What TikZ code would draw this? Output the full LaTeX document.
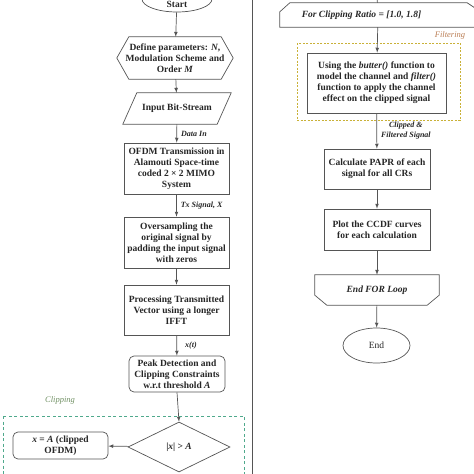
\documentclass[tikz,border=0pt]{standalone}
\usepackage{fontspec}
\setmainfont{Liberation Serif}
\usetikzlibrary{shapes,arrows}

\definecolor{edge}{HTML}{555555}
\definecolor{clipgreen}{HTML}{4FA98C}
\definecolor{cliptext}{HTML}{6F8F62}
\definecolor{filtgold}{HTML}{C9B137}
\definecolor{filttext}{HTML}{B97C52}

\tikzset{
  txt/.style={align=center, inner sep=0pt, text=black!85, font=\fontsize{9.5}{11}\selectfont\bfseries},
  proc/.style={txt, draw=edge, line width=0.7pt, rectangle, minimum width=105pt, minimum height=51pt},
  rproc/.style={proc, rounded corners=5pt},
  term/.style={txt, draw=edge, line width=0.7pt, ellipse},
  decide/.style={txt, draw=edge, line width=0.7pt, diamond, aspect=2},
  outline/.style={draw=edge, line width=0.7pt},
  lbl/.style={inner sep=0pt, text=black!85, align=center, font=\fontsize{8}{10}\selectfont\bfseries\itshape},
  link/.style={->, draw=edge, line width=0.7pt},
}

\begin{document}
\begin{tikzpicture}[x=1pt, y=-1pt, >=latex]
\useasboundingbox (0,0) rectangle (474,474);

% left column
\node[term, minimum width=70pt, minimum height=26pt] (start) at (177,-1) {\raisebox{-8pt}[0pt][0pt]{Start}};
\node[txt, minimum width=116pt, minimum height=42pt] (params) at (175,58)
  {Define parameters: \textit{N},\\Modulation Scheme and\\Order \textit{M}};
\draw[outline] ([xshift=12pt]params.north west) -- ([xshift=-12pt]params.north east) -- (params.east)
  -- ([xshift=-12pt]params.south east) -- ([xshift=12pt]params.south west) -- (params.west) -- cycle;
\node[txt, minimum width=108pt, minimum height=31pt] (input) at (177,108.5) {Input Bit-Stream};
\draw[outline] (input.south west) -- ([xshift=-14pt]input.south east) -- (input.north east)
  -- ([xshift=14pt]input.north west) -- cycle;
\node[proc] (ofdm) at (176.5,168.5) {OFDM Transmission in\\Alamouti Space-time\\coded 2 × 2 MIMO\\System};
\node[proc] (overs) at (176.5,242.5) {Oversampling the\\original signal by\\padding the input signal\\with zeros};
\node[proc, minimum height=50pt] (ifft) at (176.5,310) {Processing Transmitted\\Vector using a longer\\IFFT};
\node[rproc, minimum width=96pt, minimum height=36pt] (peak) at (177,374)
  {Peak Detection and\\Clipping Constraints\\w.r.t threshold \textit{A}};
\node[decide, minimum width=102pt, minimum height=50pt] (check) at (179,447) {|\textit{x}| > \textit{A}};
\node[rproc, minimum width=95pt, minimum height=27pt] (clipped) at (60.5,445.5) {\textit{x} = \textit{A} (clipped\\OFDM)};

\draw[link] (start) -- (params);
\draw[link] (params) -- (input);
\draw[link] (input) -- node[lbl, right=4pt] {Data In} (ofdm);
\draw[link] (ofdm) -- node[lbl, right=4pt] {Tx Signal, X} (overs);
\draw[link] (overs) -- (ifft);
\draw[link] (ifft) -- node[lbl, right=8pt] {x(t)} (peak);
\draw[link] (peak.south) -- (check.north);
\draw[link] (check) -- (clipped);

% clipping group
\node[inner sep=0pt, text=cliptext, font=\fontsize{8.5}{10}\selectfont\itshape] (cliplbl) at (60,400) {Clipping};
\draw[clipgreen, line width=0.8pt, dash pattern=on 3pt off 2.5pt] (3,416) rectangle (244,490);

% separator
\coordinate (sepTop) at (252,-5);
\coordinate (sepBot) at (252,480);
\draw[edge, line width=0.7pt] (sepTop) -- (sepBot);

% right column
\coordinate (loopIn) at (377,-5);
\node[lbl, font=\fontsize{9.5}{11}\selectfont\bfseries\itshape, minimum width=196pt, minimum height=24pt] (forloop) at (378,15)
  {\hspace*{-33pt}For Clipping Ratio = [1.0, 1.8]};
\draw[outline] (forloop.south west) -- ([yshift=-9pt]forloop.north west) -- ([xshift=10pt]forloop.north west)
  -- ([xshift=-9pt]forloop.north east) -- ([yshift=-6pt]forloop.north east) -- (forloop.south east) -- cycle;
\node[proc, font=\fontsize{9.5}{11}\selectfont\bfseries, minimum width=139pt, minimum height=60pt] (filt) at (376.5,83)
  {Using the \textit{butter()} function to\\model the channel and \textit{filter()}\\function to apply the channel\\effect on the clipped signal};
\node[proc, minimum width=106pt, minimum height=40pt] (papr) at (377,169) {Calculate PAPR of each\\signal for all CRs};
\node[proc, minimum width=106pt, minimum height=41pt] (ccdf) at (377,229.5) {Plot the CCDF curves\\for each calculation};
\node[lbl, font=\fontsize{9.5}{11}\selectfont\bfseries\itshape, minimum width=124pt, minimum height=30pt] (endloop) at (377,290) {End FOR Loop};
\draw[outline] (endloop.north west) -- (endloop.north east) -- ([yshift=10pt]endloop.south east)
  -- ([xshift=-12pt]endloop.south east) -- ([xshift=12pt]endloop.south west) -- ([yshift=10pt]endloop.south west) -- cycle;
\node[term, font=\fontsize{9.5}{11}\selectfont, minimum width=67pt, minimum height=35pt] (stop) at (376.5,345.5) {End};

% filtering group
\node[inner sep=0pt, text=filttext, font=\fontsize{8.5}{10}\selectfont\itshape] (filtlbl) at (450,35) {Filtering};
\draw[filtgold, line width=0.8pt, dash pattern=on 2pt off 1.5pt] (297,43) rectangle (460,120);

\draw[edge, line width=0.7pt] (loopIn) -- (forloop);
\draw[link] (forloop) -- (filt);
\draw[link] (filt) -- node[lbl, right=6pt, xshift=-2pt] {Clipped \&\\Filtered Signal} (papr);
\draw[link] (papr) -- (ccdf);
\draw[link] (ccdf) -- (endloop);
\draw[link] (endloop) -- (stop);
\end{tikzpicture}
\end{document}
